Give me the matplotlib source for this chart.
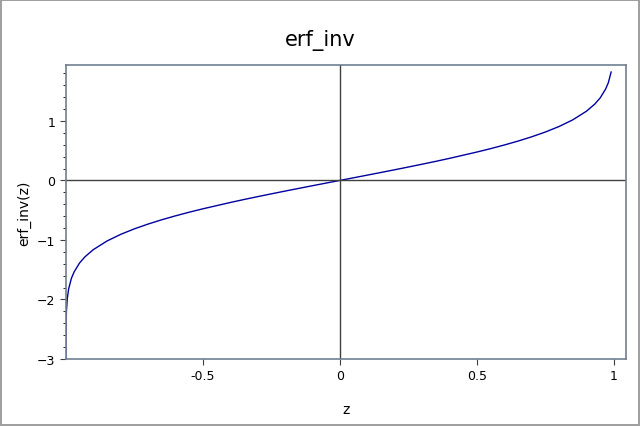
import matplotlib.pyplot as plt

# values
z_pos = [0.0, 0.05, 0.1, 0.15, 0.2, 0.25, 0.3, 0.35, 0.4, 0.45, 0.5, 0.55, 0.6,
         0.65, 0.7, 0.75, 0.8, 0.85, 0.9, 0.93, 0.95, 0.97, 0.98, 0.99]
y_pos = [0.0, 0.0443, 0.0889, 0.1338, 0.1791, 0.2253, 0.2725, 0.3205, 0.3708,
         0.4239, 0.4769, 0.5338, 0.5951, 0.6608, 0.7329, 0.8134, 0.9062, 1.0179,
         1.1631, 1.2814, 1.3859, 1.5365, 1.6450, 1.8214]
z_neg = [-0.99998, -0.9999, -0.9995, -0.999, -0.998, -0.995, -0.99, -0.98,
         -0.97, -0.95, -0.93, -0.9]
y_neg = [-3.0, -2.7511, -2.4909, -2.3268, -2.1851, -1.9849, -1.8214, -1.6450,
         -1.5365, -1.3859, -1.2814, -1.1631]

z = z_neg + [-v for v in reversed(z_pos[:-6])][:-1] + z_pos
y = y_neg + [-v for v in reversed(y_pos[:-6])][:-1] + y_pos
pairs = sorted(set(zip(z, y)))
z = [p[0] for p in pairs]
y = [p[1] for p in pairs]

fig = plt.figure(figsize=(6.4, 4.27), dpi=100)
fig.patch.set_edgecolor('#a0a0a0')
fig.patch.set_linewidth(1.5)
ax = fig.add_axes([0.103, 0.157, 0.875, 0.6885])
ax.plot(z, y, color='#0000a0', lw=1)
ax.axhline(0, color='#404040', lw=1)
ax.axvline(0, color='#404040', lw=1)
ax.set_xlim(-1.0, 1.044)
ax.set_ylim(-3, 1.94)
ax.set_xticks([-0.5, 0, 0.5, 1])
ax.set_xticklabels(['-0.5', '0', '0.5', '1'])
ax.set_yticks([-3, -2, -1, 0, 1])
ax.set_yticks([-3 + 0.2 * i for i in range(25)], minor=True)
for s in ax.spines.values():
    s.set_color('#708090')
    s.set_linewidth(1.2)
ax.tick_params(labelsize=9, length=4, color='#404040')
ax.tick_params(which='minor', length=2)
ax.set_xlabel('z', fontsize=10, labelpad=14)
ax.set_ylabel('erf_inv(z)', fontsize=10)
fig.suptitle('erf_inv', fontsize=15, y=0.93)
fig.savefig('out.png')
